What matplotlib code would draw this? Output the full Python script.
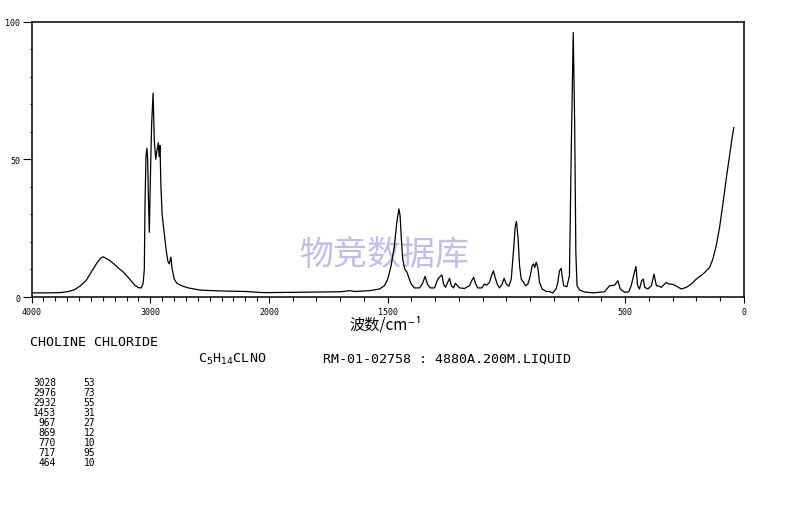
import numpy as np
import matplotlib
matplotlib.use("Agg")
import matplotlib.pyplot as plt
from matplotlib.ticker import FixedLocator, FixedFormatter, MultipleLocator

# ---------------- data ----------------
wavenumber = [4000, 3850, 3760, 3700, 3640, 3590, 3540, 3500, 3450, 3420, 3397, 3370,
              3340, 3300, 3260, 3230, 3200, 3160, 3130, 3100, 3075, 3060, 3050, 3044,
              3036, 3028, 3022, 3016, 3008, 2996, 2988, 2976, 2966, 2954, 2944, 2932,
              2925, 2918, 2910, 2900, 2884, 2866, 2852, 2840, 2826, 2815, 2798, 2776,
              2732, 2680, 2580, 2410, 2200, 2050, 2000, 1900, 1800, 1700, 1660, 1640,
              1577, 1535, 1514, 1500, 1486, 1472, 1462, 1453, 1448, 1442, 1437, 1428,
              1420, 1412, 1401, 1388, 1366, 1353, 1343, 1333, 1321, 1303, 1289, 1279,
              1272, 1265, 1257, 1247, 1240, 1232, 1223, 1215, 1208, 1198, 1177, 1156,
              1144, 1138, 1131, 1121, 1104, 1093, 1083, 1072, 1062, 1055, 1048, 1039,
              1030, 1018, 1010, 1001, 990, 980, 970, 963, 958, 951, 945, 938,
              928, 920, 910, 900, 892, 886, 881, 875, 868, 861, 850, 833,
              819, 805, 791, 784, 777, 770, 765, 759, 746, 735, 727, 719,
              713, 708, 703, 693, 671, 636, 587, 566, 545, 531, 521, 503,
              485, 475, 465, 455, 448, 440, 431, 424, 418, 405, 390, 379,
              369, 359, 348, 339, 327, 316, 300, 285, 264, 243, 222, 201,
              173, 145, 131, 117, 103, 89, 75, 61, 49, 43]
intensity = [1.5, 1.5, 1.6, 1.9, 2.6, 4.0, 6.0, 8.8, 12.3, 14.0, 14.6, 14.0,
             13.2, 11.8, 10.2, 9.2, 7.8, 5.8, 4.3, 3.4, 3.3, 5.0, 10.0, 34.0,
             51.0, 54.0, 50.0, 37.0, 23.5, 49.0, 63.0, 74.0, 57.0, 50.0, 53.0, 56.0,
             51.0, 55.0, 40.0, 30.0, 24.0, 17.0, 13.0, 12.0, 14.5, 10.0, 6.5, 5.0,
             4.0, 3.3, 2.5, 2.2, 2.0, 1.6, 1.6, 1.7, 1.8, 1.9, 2.3, 2.0,
             2.3, 2.9, 4.1, 6.5, 11.3, 18.6, 27.0, 32.0, 29.5, 20.0, 13.8, 10.0,
             9.2, 7.2, 4.7, 3.3, 3.3, 5.0, 7.5, 4.7, 3.3, 3.3, 6.5, 7.5,
             8.0, 4.7, 3.5, 5.5, 6.8, 4.1, 3.3, 5.0, 4.3, 3.3, 3.1, 4.1,
             6.3, 7.1, 5.0, 3.3, 3.3, 4.7, 4.3, 5.3, 8.0, 9.5, 7.1, 4.7,
             3.3, 4.7, 6.8, 4.7, 3.9, 6.5, 17.4, 25.8, 27.4, 21.0, 11.3, 6.5,
             5.3, 4.1, 4.7, 7.7, 11.3, 12.0, 10.7, 12.6, 10.7, 5.3, 2.9, 2.0,
             2.0, 1.5, 3.0, 5.3, 9.5, 10.4, 7.1, 4.1, 3.7, 7.7, 55.0, 96.0,
             63.0, 16.0, 4.1, 2.6, 1.8, 1.5, 1.9, 4.1, 4.3, 5.9, 2.9, 1.7,
             1.9, 4.1, 7.7, 11.1, 4.1, 2.9, 5.9, 6.5, 3.5, 2.9, 4.1, 8.3,
             4.1, 4.0, 3.5, 4.3, 5.3, 4.7, 4.6, 4.0, 2.9, 3.5, 4.7, 6.5,
             8.3, 10.7, 13.8, 18.6, 25.2, 33.7, 42.8, 51.2, 58.4, 61.5]

x_major_ticks = [4000, 3000, 2000, 1500, 500, 0]
x_major_labels = ["4000", "3000", "2000", "1500", "500", "0"]
y_major_ticks = [0, 50, 100]
y_major_labels = ["0", "50", "100"]

compound_name = "CHOLINE CHLORIDE"
formula = "C$_5$H$_{14}$CLNO"
sample_info = "RM-01-02758 : 4880A.200M.LIQUID"
peak_wn = ["3028", "2976", "2932", "1453", "967", "869", "770", "717", "464"]
peak_int = ["53", "73", "55", "31", "27", "12", "10", "95", "10"]
xlabel_text = "波数/cm⁻¹"
watermark = "物竞数据库"

# ---------------- figure ----------------
W, H = 794, 510
fig = plt.figure(figsize=(W / 100, H / 100), dpi=100)
fig.patch.set_facecolor("white")

ax = fig.add_axes([31.5 / W, 1 - 298 / H, (744 - 31.5) / W, (298 - 22.5) / H])


def fwd(x):
    x = np.asarray(x, dtype=float)
    return np.where(x > 2000, 2000 + (x - 2000) / 2.0, x)


def inv(y):
    y = np.asarray(y, dtype=float)
    return np.where(y > 2000, 2000 + (y - 2000) * 2.0, y)


ax.set_xscale("function", functions=(fwd, inv))
ax.plot(wavenumber, intensity, color="black", lw=0.9, zorder=3)
ax.set_xlim(4000, 0)
ax.set_ylim(0, 100)

for s in ax.spines.values():
    s.set_linewidth(1.1)

ax.xaxis.set_major_locator(FixedLocator(x_major_ticks))
ax.xaxis.set_major_formatter(FixedFormatter(x_major_labels))
ax.xaxis.set_minor_locator(MultipleLocator(100))
ax.yaxis.set_major_locator(FixedLocator(y_major_ticks))
ax.yaxis.set_major_formatter(FixedFormatter(y_major_labels))
ax.yaxis.set_minor_locator(MultipleLocator(10))

mono = "DejaVu Sans Mono"
ax.tick_params(axis="x", which="major", direction="out", length=4.5, width=0.8,
               pad=2.5, labelsize=6, top=False)
ax.tick_params(axis="x", which="minor", direction="out", length=2.6, width=0.8, top=False)
ax.tick_params(axis="y", which="major", direction="out", length=6.5, width=0.8,
               pad=1.5, labelsize=6, right=False)
ax.tick_params(axis="y", which="minor", direction="out", length=1.8, width=0.8, right=False)
for lab in ax.get_xticklabels() + ax.get_yticklabels():
    lab.set_fontfamily(mono)

# watermark
ax.text(0.495, 0.15, watermark, transform=ax.transAxes, ha="center", va="center",
        fontsize=24.5, color="#bebee9", family=["Noto Sans CJK SC", "DejaVu Sans"],
        zorder=1)

# x label
fig.text(386 / W, 1 - 325 / H, xlabel_text, ha="center", va="center", fontsize=11,
         family=["Noto Sans CJK SC", "DejaVu Sans"])

# info block
fig.text(30 / W, 1 - 343 / H, compound_name, ha="left", va="center", fontsize=9.6,
         family=mono)
fig.text(198 / W, 1 - 359 / H, formula, ha="left", va="center", fontsize=9.6,
         family=mono)
fig.text(323 / W, 1 - 359 / H, sample_info, ha="left", va="center", fontsize=9.6,
         family=mono)

for i, (w, v) in enumerate(zip(peak_wn, peak_int)):
    y = 1 - (383 + 10 * i) / H
    fig.text(56 / W, y, w, ha="right", va="center", fontsize=6.9, family=mono)
    fig.text(95 / W, y, v, ha="right", va="center", fontsize=6.9, family=mono)

fig.savefig("out.png", dpi=100, facecolor="white")
